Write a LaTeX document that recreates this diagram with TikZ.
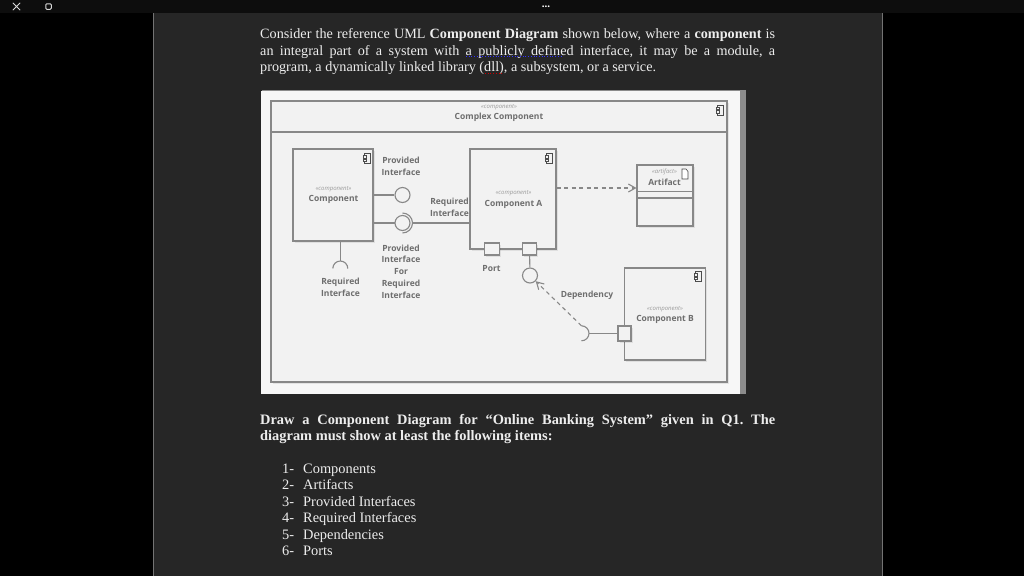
\documentclass[tikz,border=0pt]{standalone}
\usepackage{fontspec}
\usepackage{xcolor}
\usetikzlibrary{arrows.meta,positioning,shadows,shapes.misc}
\setmainfont{Liberation Serif}
\newfontfamily\diagfont{Open Sans}
\definecolor{pagedark}{HTML}{262626}
\definecolor{barblack}{HTML}{0D0D0D}
\definecolor{umlline}{HTML}{888888}
\definecolor{umltext}{HTML}{6E6E6E}
\definecolor{umlfill}{HTML}{F2F2F2}
\definecolor{papertext}{HTML}{EDEDED}
\newcommand{\stereo}[1]{{\fontsize{6}{7}\selectfont\itshape\mdseries\color{umltext!70}«#1»}}
\newcommand{\fullline}[1]{\hbox to 515pt{#1}}
\frenchspacing

\begin{document}
\begin{tikzpicture}[
  x=1pt, y=-1pt,
  para/.style={text=papertext, align=left, anchor=north west, inner sep=0pt, font=\fontsize{14.2}{16.5}\selectfont},
  listitem/.style={text=papertext, anchor=base west, inner sep=0pt, font=\fontsize{14.4}{16.5}\selectfont},
  compbox/.style={draw=umlline, line width=1.1pt, fill=umlfill, align=center, inner sep=0pt, text=umltext, font=\diagfont\fontsize{8.5}{12}\bfseries\selectfont, drop shadow={shadow xshift=1.5pt, shadow yshift=-1.5pt, fill=black, opacity=0.08}},
  lbl/.style={align=center, inner sep=0pt, text=umltext, font=\diagfont\fontsize{8.5}{11.7}\bfseries\selectfont},
  portbox/.style={compbox, minimum width=14.5pt, minimum height=12pt},
  lollipop/.style={circle, draw=umlline, line width=1.1pt, fill=umlfill, minimum size=15pt, inner sep=0pt},
  socket/.style={circle, minimum size=15pt, inner sep=0pt},
  link/.style={draw=umlline, line width=1.1pt},
  dep/.style={link, dash pattern=on 4pt off 3.5pt, -{Straight Barb[length=7pt,width=8pt]}},
  compicon/.pic={
    \draw[black!70, line width=0.6pt, fill=umlfill] (-2.5,-5) rectangle (3.5,5);
    \draw[black!70, line width=0.6pt, fill=umlfill] (-3.5,-3) rectangle (-0.5,-0.5);
    \draw[black!70, line width=0.6pt, fill=umlfill] (-3.5,0.5) rectangle (-0.5,3);
  }
]
\useasboundingbox (0,0) rectangle (1024,576);
% window
\fill[black] (0,0) rectangle (1024,576);
\fill[pagedark] (153.5,13) rectangle (882.5,576);
\draw[black!55, line width=0.6pt] (153.5,13) -- (153.5,576) (882.5,13) -- (882.5,576);
\fill[barblack] (0,0) rectangle (1024,13);
\node[cross out, draw=white!85!black, line width=0.8pt, minimum size=6.5pt, inner sep=0pt] (closex) at (16.5,6.5) {};
\node[draw=white!85!black, line width=1pt, rounded corners=1pt, minimum size=5.5pt, inner sep=0pt] (maxbtn) at (48.5,6.5) {};
\node[text=white, inner sep=0pt, anchor=base, font=\bfseries\fontsize{11}{11}\selectfont] (dots) at (546,7) {...};
% question text
\node[para] (intro) at (260,28.5) {\fullline{Consider the reference UML \textbf{Component Diagram} shown below, where a \textbf{component} is}\\
  \fullline{an integral part of a system with a publicly defined interface, it may be a module, a}\\
  program, a dynamically linked library (dll), a subsystem, or a service.};
\draw[blue!80!white, line width=0.7pt, dotted] (466,56.5) -- (561,56.5);
\draw[red!80!black, line width=0.7pt, dotted] (485,73) -- (503,73);
\node[para, font=\bfseries\fontsize{14.4}{16.5}\selectfont] (task) at (260,414) {\fullline{Draw a Component Diagram for “Online Banking System” given in Q1. The}\\
  diagram must show at least the following items:};
\foreach \n/\y/\t in {1/473/Components, 2/489.5/Artifacts, 3/506/Provided Interfaces, 4/522.5/Required Interfaces, 5/539/Dependencies, 6/555/Ports} {
  \node[listitem] (num\n) at (282,\y) {\n-};
  \node[listitem] (item\n) at (303,\y) {\t};
}
% figure
\fill[black!45] (262,90) rectangle (745.5,394);
\fill[white!97!black] (260.5,91) rectangle (740,393.5);
\node[compbox, minimum width=456pt, minimum height=281pt] (complex) at (499,241.5) {};
\draw[link] (271,132) -- (727,132);
\node[lbl] (complexname) at (499,113) {\stereo{component}\\Complex Component};
\pic at (720,110) {compicon};

\node[compbox, minimum width=80pt, minimum height=92pt] (comp) at (333,195) {};
\node[lbl] (compname) at (333.5,195) {\stereo{component}\\Component};
\pic at (366.5,158.5) {compicon};
\node[compbox, minimum width=86pt, minimum height=100pt] (compa) at (513,199) {};
\node[lbl] (companame) at (513.5,199.5) {\stereo{component}\\Component A};
\pic at (548.5,158.5) {compicon};
\node[compbox, minimum width=81pt, minimum height=92pt] (compb) at (665,314) {};
\node[lbl] (compbname) at (665,315) {\stereo{component}\\Component B};
\pic at (697.5,276.5) {compicon};

\node[compbox, minimum width=56pt, minimum height=61pt] (artifact) at (665,195.5) {};
\draw[link] (637,191.5) -- (693,191.5);
\draw[link] (637,198) -- (693,198);
\node[lbl] (artifactname) at (664.5,177.5) {\stereo{artifact}\\Artifact};
\draw[black!70, line width=0.6pt, fill=white] (682,169) -- (686,169) -- (688,171.5) -- (688,179) -- (682,179) -- cycle;

% interfaces
\node[lollipop] (prov) at (402.5,195) {};
\node[socket] (sockreq) at (402.5,223) {};
\node[socket] (sockcomp) at (340.5,268.5) {};
\node[lollipop] (provport) at (530,275.5) {};
\node[socket] (sockb) at (581.5,333.5) {};
\node[portbox] (portl) at (492,249) {};
\node[portbox] (portr) at (529.5,249) {};
\node[portbox, minimum width=13pt, minimum height=15pt] (portb) at (624.5,333.5) {};

\draw[link] (comp.east |- prov) -- (prov);
\draw[link] (comp.east |- sockreq) -- (sockreq);
\draw[link] ([xshift=10pt]sockreq.center) -- (compa.west |- sockreq);
\draw[link] ([yshift=10pt]sockreq.center) arc[start angle=90, end angle=-90, radius=10pt];
\node[lollipop] (provreq) at (402.5,223) {};
\draw[link] (comp.south -| sockcomp) -- (sockcomp.north);
\draw[link] (sockcomp.west) arc[start angle=180, end angle=0, radius=7.5pt];
\draw[link] (portr) -- (provport);
\draw[link] (sockb.north) arc[start angle=90, end angle=-90, radius=7.5pt];
\draw[link] (sockb.east) -- (portb);
\draw[dep] (compa.east |- 0,188) -- (artifact.west |- 0,188);
\draw[dep] (sockb.north) -- (provport.south east);

% labels
\node[lbl] (lblprov) at (401,166.5) {Provided\\Interface};
\node[lbl] (lblreq) at (449.5,207) {Required\\Interface};
\node[lbl] (lblpfr) at (401,271.5) {Provided\\Interface\\For\\Required\\Interface};
\node[lbl] (lblreqb) at (340.5,287) {Required\\Interface};
\node[lbl] (lblport) at (491.5,268.5) {Port};
\node[lbl] (lbldep) at (587,295.5) {Dependency};
\end{tikzpicture}
\end{document}
